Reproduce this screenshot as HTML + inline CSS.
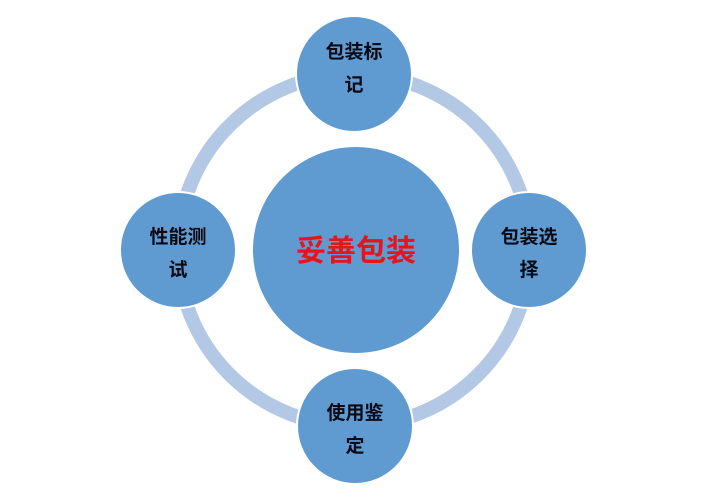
<!DOCTYPE html>
<html><head><meta charset="utf-8"><style>
html,body{margin:0;padding:0;background:#fff;width:720px;height:502px;overflow:hidden}
</style></head><body>
<svg width="720" height="502" xmlns="http://www.w3.org/2000/svg" style="font-family:'Liberation Sans','Noto Sans CJK SC',sans-serif;font-weight:bold">
<circle cx="354" cy="250" r="176" fill="none" stroke="#b3c8e4" stroke-width="14"/>
<g fill="#5f9bd1" stroke="#fff" stroke-width="2">
<circle cx="356" cy="250" r="104"/>
<circle cx="354" cy="74" r="58"/>
<circle cx="178" cy="250" r="58"/>
<circle cx="529" cy="250" r="58"/>
<circle cx="355" cy="426" r="58"/>
</g>
<text x="356" y="261" text-anchor="middle" font-size="30" fill="#e8141b">妥善包装</text>
<g font-size="19" fill="#0a0a14" text-anchor="middle">
<text x="354" y="58">包装标</text><text x="354" y="91">记</text>
<text x="178" y="243">性能测</text><text x="178" y="276">试</text>
<text x="529" y="243">包装选</text><text x="529" y="276">择</text>
<text x="355" y="419">使用鉴</text><text x="355" y="452">定</text>
</g>
</svg>
</body></html>
